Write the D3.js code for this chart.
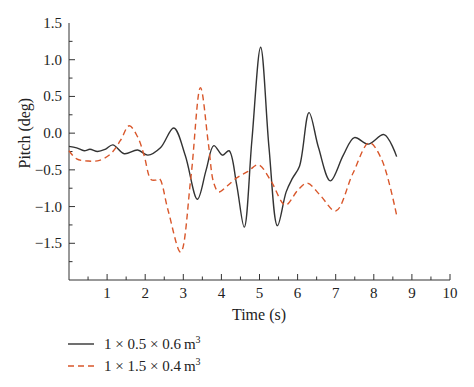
<!DOCTYPE html>
<html>
<head>
<meta charset="utf-8">
<script src="https://cdn.jsdelivr.net/npm/d3@7"></script>
<style>
  body { margin: 0; background: #fff; }
  text { font-family: "Liberation Serif", "DejaVu Serif", serif; fill: #222; }
</style>
</head>
<body>
<div id="container"></div>
<script>
// time (s) and pitch (deg)
var timeA  = [0, 0.2, 0.4, 0.55, 0.75, 0.95, 1.15, 1.45, 1.8, 2.07, 2.4, 2.75, 3.05, 3.37, 3.6, 3.8, 4.03, 4.2, 4.4, 4.6, 4.8, 5.03, 5.25, 5.47, 5.7, 5.86, 6.05, 6.3, 6.55, 6.86, 7.2, 7.49, 7.85, 8.27, 8.6];
var pitchA = [-0.18, -0.2, -0.24, -0.22, -0.25, -0.22, -0.16, -0.28, -0.23, -0.3, -0.2, 0.07, -0.3, -0.9, -0.5, -0.17, -0.3, -0.24, -0.7, -1.28, -0.1, 1.17, -0.2, -1.26, -0.8, -0.62, -0.45, 0.28, -0.2, -0.65, -0.3, -0.06, -0.15, -0.02, -0.32];

var timeB  = [0, 0.2, 0.5, 0.8, 1.1, 1.35, 1.58, 1.8, 1.97, 2.15, 2.27, 2.37, 2.6, 2.93, 3.2, 3.45, 3.66, 3.8, 3.93, 4.15, 4.4, 4.7, 4.97, 5.3, 5.68, 6.0, 6.25, 6.6, 7.0, 7.45, 7.88, 8.2, 8.6];
var pitchB = [-0.24, -0.35, -0.38, -0.37, -0.28, -0.1, 0.1, -0.05, -0.3, -0.63, -0.64, -0.62, -1.05, -1.62, -0.6, 0.62, -0.15, -0.68, -0.8, -0.72, -0.61, -0.52, -0.43, -0.65, -0.98, -0.78, -0.68, -0.85, -1.06, -0.55, -0.13, -0.35, -1.12];

var xTicks = [1, 2, 3, 4, 5, 6, 7, 8, 9, 10];
var yTicks = [-1.5, -1.0, -0.5, 0.0, 0.5, 1.0, 1.5];
var seriesNames = ["1 \u00d7 0.5 \u00d7 0.6\u2009m", "1 \u00d7 1.5 \u00d7 0.4\u2009m"];

var width = 474, height = 387;
var svg = d3.select("#container").append("svg")
  .attr("width", width).attr("height", height);

var x = d3.scaleLinear().domain([0, 10]).range([69, 450]);
var y = d3.scaleLinear().domain([-2, 1.5]).range([280, 23]);

function fmt(v) { return v === 0 ? "0.0" : d3.format(".1f")(v).replace("-", "\u2212"); }

// ticks, inward, with minor ones in between
var g = svg.append("g").attr("stroke", "#333").attr("stroke-width", 1);
d3.range(0.5, 10, 0.5).forEach(function (t) {
  var major = Math.abs(t - Math.round(t)) < 1e-6;
  g.append("line").attr("x1", x(t)).attr("x2", x(t))
    .attr("y1", y(-2)).attr("y2", y(-2) - (major ? 6 : 3.5));
});
d3.range(-1.75, 1.5, 0.25).forEach(function (t) {
  var major = Math.abs(t * 2 - Math.round(t * 2)) < 1e-6;
  g.append("line").attr("y1", y(t)).attr("y2", y(t))
    .attr("x1", x(0)).attr("x2", x(0) + (major ? 6 : 3.5));
});
g.append("line").attr("x1", x(0)).attr("x2", x(10)).attr("y1", y(-2)).attr("y2", y(-2));
g.append("line").attr("x1", x(0)).attr("x2", x(0)).attr("y1", y(-2)).attr("y2", y(1.5));
g.append("line").attr("x1", x(10)).attr("x2", x(10)).attr("y1", y(-2)).attr("y2", y(-2) - 6);

svg.selectAll(".xl").data(xTicks).enter().append("text")
  .attr("x", function (d) { return x(d); })
  .attr("y", 298)
  .attr("text-anchor", "middle")
  .style("font-size", "15px")
  .text(function (d) { return d; });

svg.selectAll(".yl").data(yTicks).enter().append("text")
  .attr("x", 62)
  .attr("y", function (d) { return y(d) + 5; })
  .attr("text-anchor", "end")
  .style("font-size", "15px")
  .text(fmt);

svg.append("text").attr("x", 259).attr("y", 320)
  .attr("text-anchor", "middle").style("font-size", "16px").text("Time (s)");
svg.append("text")
  .attr("transform", "translate(30," + y(0) + ") rotate(-90)")
  .attr("text-anchor", "middle").style("font-size", "16px").text("Pitch (deg)");

var line = d3.line()
  .x(function (d) { return x(d[0]); })
  .y(function (d) { return y(d[1]); })
  .curve(d3.curveCatmullRom.alpha(0.5));

svg.append("path").datum(d3.zip(timeA, pitchA))
  .attr("d", line).attr("fill", "none")
  .attr("stroke", "#333").attr("stroke-width", 1.4);

svg.append("path").datum(d3.zip(timeB, pitchB))
  .attr("d", line).attr("fill", "none")
  .attr("stroke", "#d9572b").attr("stroke-width", 1.4)
  .attr("stroke-dasharray", "6,4");

// legend
var styles = [{ c: "#333", dash: null }, { c: "#d9572b", dash: "6,4" }];
seriesNames.forEach(function (name, i) {
  var ly = 344 + i * 22;
  svg.append("line").attr("x1", 68).attr("x2", 94).attr("y1", ly).attr("y2", ly)
    .attr("stroke", styles[i].c).attr("stroke-width", 1.4)
    .attr("stroke-dasharray", styles[i].dash);
  var t = svg.append("text").attr("x", 104).attr("y", ly + 5).style("font-size", "15px");
  t.append("tspan").text(name);
  t.append("tspan").attr("dy", -6).style("font-size", "10px").text("3");
});
</script>
</body>
</html>
